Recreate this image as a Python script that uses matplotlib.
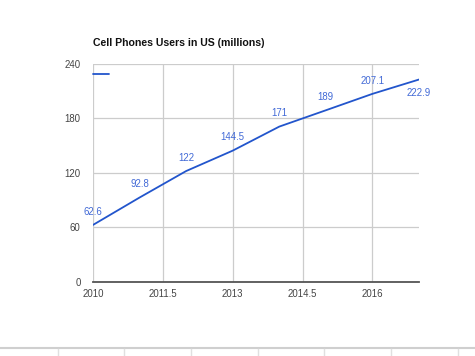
import matplotlib as mpl
mpl.use('agg')
import matplotlib.pyplot as plt
from matplotlib.lines import Line2D
from matplotlib.ticker import FixedLocator, FuncFormatter

plt.rcParams['font.family'] = ['Liberation Sans', 'DejaVu Sans']

# Data
years = [2010, 2011, 2012, 2013, 2014, 2015, 2016, 2017]
users = [62.6, 92.8, 122, 144.5, 171, 189, 207.1, 222.9]
value_labels = ["62.6", "92.8", "122", "144.5", "171", "189", "207.1", "222.9"]
x_ticks = [2010, 2011.5, 2013, 2014.5, 2016]
y_ticks = [0, 60, 120, 180, 240]
title = "Cell Phones Users in US (millions)"

LINE = "#2255cc"
LABEL = "#4169d6"
GRID = "#cccccc"
TEXT = "#444444"
FONTSIZE = 6.9

fig = plt.figure(figsize=(4.75, 3.56), dpi=100)
subplot = fig.add_axes([0.1958, 0.2087, 0.6863, 0.6115])

line, = subplot.plot(years, users, color=LINE, linewidth=1.3, solid_capstyle='round')

# value labels: above the point, last one below
for i, (x, y, text) in enumerate(zip(years, users, value_labels)):
    below = i == len(years) - 1
    subplot.annotate(text, (x, y), xytext=(0, -9.5 if below else 9.5), textcoords='offset points',
                     ha='center', va='center', color=LABEL, fontsize=FONTSIZE, clip_on=False)

# Parameters
subplot.set_xlim(2010, 2017)
subplot.set_ylim(0, 240)
subplot.xaxis.set_major_locator(FixedLocator(x_ticks))
subplot.yaxis.set_major_locator(FixedLocator(y_ticks))
subplot.xaxis.set_major_formatter(FuncFormatter(lambda v, p: '%g' % v))
subplot.tick_params(length=0, labelsize=FONTSIZE, labelcolor=TEXT)
subplot.tick_params(axis='x', pad=5)
subplot.tick_params(axis='y', pad=9)
subplot.grid(color=GRID, linewidth=0.9)
subplot.set_axisbelow(True)
for side in ['top', 'right', 'left']:
    subplot.spines[side].set_visible(False)
subplot.spines['bottom'].set_color('#555555')
subplot.spines['bottom'].set_linewidth(1.3)
subplot.spines['bottom'].set_zorder(3)

subplot.legend([line], [''], loc='upper left', bbox_to_anchor=(-0.012, 0.995), frameon=False,
               handlelength=1.7, handletextpad=0, borderaxespad=0, fontsize=FONTSIZE)

fig.text(0.1958, 0.879, title, fontsize=7.6, fontweight='bold', color='#111111', va='center')

# spreadsheet grid peeking at the bottom
fig.add_artist(Line2D([0, 1], [1 - 348 / 356] * 2, color='#cfcfcf', linewidth=1.5))
for px in [58, 124, 191, 258, 324, 391, 458]:
    fig.add_artist(Line2D([px / 475] * 2, [0, 1 - 349 / 356], color='#e0e0e0', linewidth=1))

fig.savefig('out.png', dpi=100, facecolor='white')
